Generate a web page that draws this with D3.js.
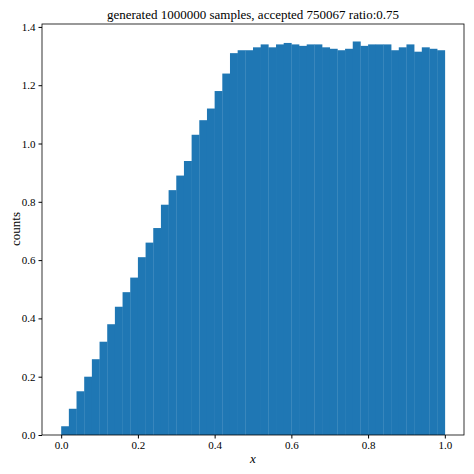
<!DOCTYPE html>
<html><head><meta charset="utf-8">
<script src="https://cdn.jsdelivr.net/npm/d3@7"></script>
<style>body{margin:0;background:#fff}text{font-family:"Liberation Serif",serif}</style>
</head><body><svg id="c" width="474" height="474"></svg>
<script>
const binEdges = d3.range(51).map(i => i / 50);
const density = [0.03,0.09,0.15,0.20,0.26,0.32,0.38,0.44,0.49,0.54,0.61,0.66,0.71,0.79,0.84,0.89,0.94,1.03,1.08,1.12,1.18,1.24,1.31,1.32,1.32,
  1.33,1.34,1.33,1.34,1.345,1.34,1.335,1.34,1.34,1.33,1.325,1.32,1.325,1.35,1.335,1.34,1.34,1.34,1.32,1.33,1.34,1.315,1.33,1.325,1.32];
const xTicks = [0, 0.2, 0.4, 0.6, 0.8, 1.0];
const yTicks = [0, 0.2, 0.4, 0.6, 0.8, 1.0, 1.2, 1.4];

const svg = d3.select("#c");
const x = d3.scaleLinear().domain([-0.05, 1.05]).range([42, 464]);
const y = d3.scaleLinear().domain([0, 1.41]).range([435, 24]);

svg.append("g").selectAll("rect").data(density).join("rect")
  .attr("x", (d, i) => x(binEdges[i]))
  .attr("width", (d, i) => x(binEdges[i + 1]) - x(binEdges[i]) + 0.3)
  .attr("y", d => y(d))
  .attr("height", d => y(0) - y(d))
  .attr("fill", "#1f77b4");

const fmt = d3.format(".1f");
svg.append("g").attr("transform", "translate(0,435)")
  .call(d3.axisBottom(x).tickValues(xTicks).tickFormat(fmt).tickSizeOuter(0).tickSize(3.5))
  .call(g => g.select(".domain").remove());
svg.append("g").attr("transform", "translate(42,0)")
  .call(d3.axisLeft(y).tickValues(yTicks).tickFormat(fmt).tickSizeOuter(0).tickSize(3.5))
  .call(g => g.select(".domain").remove());
svg.selectAll(".tick text").attr("font-size", 11).attr("font-family", "Liberation Serif").attr("fill", "#000");

svg.append("rect").attr("x", 42).attr("y", 24).attr("width", 422).attr("height", 411)
  .attr("fill", "none").attr("stroke", "#000").attr("stroke-width", 0.8);

svg.append("text").attr("x", 253).attr("y", 19).attr("text-anchor", "middle").attr("font-size", 13)
  .text("generated 1000000 samples, accepted 750067 ratio:0.75");
svg.append("text").attr("x", 253).attr("y", 463).attr("text-anchor", "middle").attr("font-size", 13)
  .attr("font-style", "italic").text("x");
svg.append("text").attr("transform", "translate(20,229) rotate(-90)").attr("text-anchor", "middle")
  .attr("font-size", 13).text("counts");
</script></body></html>
